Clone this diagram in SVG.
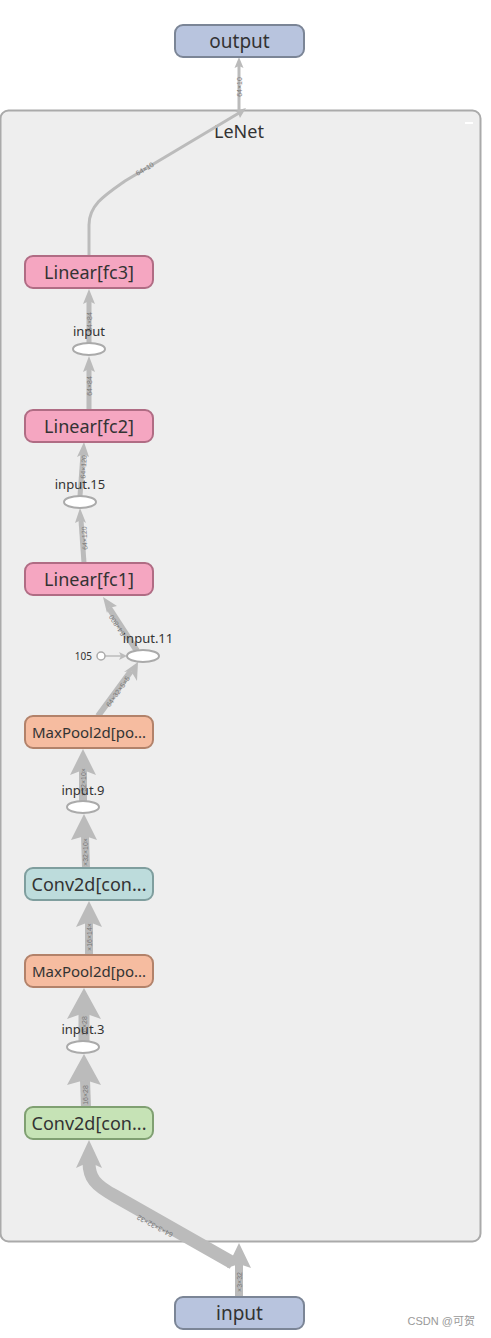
<svg xmlns="http://www.w3.org/2000/svg" width="491" height="1338" viewBox="0 0 491 1338">
<style>
.node rect{stroke-width:2}
.io rect{fill:#b8c4de;stroke:#7b8596}
.lin rect{fill:#f5a6c1;stroke:#b06c84}
.pool rect{fill:#f6bca0;stroke:#b2826a}
.conv2 rect{fill:#bddcdc;stroke:#7f9e9e}
.conv1 rect{fill:#c6e3b6;stroke:#80a072}
.lbl{font-family:"Noto Sans","Open Sans","Liberation Sans",sans-serif;fill:#333;text-anchor:middle}
.op ellipse{fill:#fff;stroke:#aaa;stroke-width:2}
.oplbl{font-family:"Noto Sans","Liberation Sans",sans-serif;font-size:13px;fill:#333;text-anchor:middle}
.e{fill:none;stroke:#bbb}
.ah{fill:#bbb}
.el{font-family:"Liberation Sans",sans-serif;font-size:7px;fill:#777;text-anchor:middle}
</style>
<rect width="491" height="1338" fill="#fff"/>
<g id="cluster-LeNet">
<rect x="0.5" y="110.5" width="480" height="1131" rx="8" fill="#eeeeee" stroke="#aaa" stroke-width="2"/>
<text class="lbl" x="239" y="138" font-size="18">LeNet</text>
<line x1="465" y1="123" x2="473" y2="123" stroke="#fff" stroke-width="2"/>
</g>
<g id="connectors">
<!-- input -> cluster -->
<path class="e" d="M239,1297 L239,1264" stroke-width="8"/>
<polygon class="ah" points="239,1243 251,1268 239,1264 227,1268"/>
<text class="el" transform="translate(242,1282) rotate(-90)">×3×32</text>
<!-- cluster -> conv1 -->
<path class="e" d="M233,1263 L115,1196 C95,1185 89,1178 89,1162" stroke-width="13"/>
<polygon class="ah" points="89,1140 102,1168 89,1162 76,1168"/>
<text class="el" transform="translate(156,1224) rotate(208)">64×3×32×32</text>
<!-- conv1 -> input.3 -->
<path class="e" d="M86,1107 L85,1080" stroke-width="10"/>
<polygon class="ah" points="84,1054 101,1085 85,1080 67,1085"/>
<text class="el" transform="translate(88,1095) rotate(-90)">16×28</text>
<!-- input.3 -> maxpool1 -->
<path class="e" d="M84,1041 L84,1013" stroke-width="11"/>
<polygon class="ah" points="84,988 101,1019 84,1013 67,1019"/>
<text class="el" transform="translate(87,1026) rotate(-90)">16×28</text>
<!-- maxpool1 -> conv2 -->
<path class="e" d="M89,955 L89,922" stroke-width="8"/>
<polygon class="ah" points="89,901 102,927 89,922 76,927"/>
<text class="el" transform="translate(92,937) rotate(-90)">×16×14×</text>
<!-- conv2 -> input.9 -->
<path class="e" d="M86,868 L85,836" stroke-width="8"/>
<polygon class="ah" points="84,814 97,840 85,836 71,840"/>
<text class="el" transform="translate(88,852) rotate(-90)">×32×10×</text>
<!-- input.9 -> maxpool -->
<path class="e" d="M83,801 L83,770" stroke-width="8"/>
<polygon class="ah" points="83,749 96,775 83,770 70,775"/>
<text class="el" transform="translate(86,782) rotate(-90)">×32×10×</text>
<!-- maxpool -> input.11 -->
<path class="e" d="M98,716 L131,671" stroke-width="6"/>
<polygon class="ah" points="138,662 137,681 131,671 124,672"/>
<text class="el" transform="translate(120,693) rotate(-55)">64×32×5×5</text>
<!-- input.11 -> fc1 -->
<path class="e" d="M137,651 L109,608" stroke-width="6"/>
<polygon class="ah" points="103,597 117,606 109,608 107,613"/>
<text class="el" transform="translate(119,624) rotate(237)">64×800</text>
<!-- 105 -> input.11 -->
<path class="e" d="M105,656 L121,656" stroke-width="1.5" stroke="#aaa"/>
<polygon class="ah" points="127,656 119,660 121,656 119,652" fill="#aaa"/>
<!-- fc1 -> input.15 -->
<path class="e" d="M84,563 L81,520" stroke-width="5"/>
<polygon class="ah" points="80,508 86,523 81,520 75,523"/>
<text class="el" transform="translate(87,538) rotate(-92)">64×120</text>
<!-- input.15 -> fc2 -->
<path class="e" d="M80,496 L83,454" stroke-width="5"/>
<polygon class="ah" points="84,442 89,457 83,454 77,457"/>
<text class="el" transform="translate(86,467) rotate(-86)">64×120</text>
<!-- fc2 -> input -->
<path class="e" d="M89,410 L89,369" stroke-width="5"/>
<polygon class="ah" points="89,356 95,372 89,369 83,372"/>
<text class="el" transform="translate(92,386) rotate(-90)">64×84</text>
<!-- input -> fc3 -->
<path class="e" d="M89,343 L89,301" stroke-width="5"/>
<polygon class="ah" points="89,289 95,304 89,301 83,304"/>
<text class="el" transform="translate(92,322) rotate(-90)">64×84</text>
<!-- fc3 -> cluster exit -->
<path class="e" d="M89,256 L89,225 C89,205 105,195 125,181 L239,113" stroke-width="3"/>
<polygon class="ah" points="246,108 240,118 238,113 235,111"/>
<text class="el" transform="translate(146,171) rotate(-31)">64×10</text>
<!-- cluster -> output -->
<path class="e" d="M239,110 L239,66" stroke-width="3"/>
<polygon class="ah" points="239,57 243.5,68 239,66 234.5,68"/>
<text class="el" transform="translate(241.5,87) rotate(-90)">64×10</text>
</g>
<g id="node-output" class="node io">
<rect x="175" y="25" width="129" height="32" rx="8"/>
<text class="lbl" x="239.5" y="48" font-size="19">output</text>
</g>
<g id="node-fc3" class="node lin">
<rect x="25" y="256" width="128" height="32" rx="8"/>
<text class="lbl" x="89" y="279" font-size="18">Linear[fc3]</text>
</g>
<g id="node-input" class="op">
<ellipse cx="89" cy="349" rx="16" ry="6"/>
<text class="oplbl" x="89" y="336">input</text>
</g>
<g id="node-fc2" class="node lin">
<rect x="25" y="410" width="128" height="32" rx="8"/>
<text class="lbl" x="89" y="433" font-size="18">Linear[fc2]</text>
</g>
<g id="node-input15" class="op">
<ellipse cx="80" cy="502" rx="16" ry="6"/>
<text class="oplbl" x="80" y="489">input.15</text>
</g>
<g id="node-fc1" class="node lin">
<rect x="25" y="563" width="128" height="32" rx="8"/>
<text class="lbl" x="89" y="586" font-size="18">Linear[fc1]</text>
</g>
<g id="node-input11" class="op">
<ellipse cx="143" cy="656" rx="16" ry="6"/>
<text class="oplbl" x="148" y="643">input.11</text>
</g>
<g id="node-105">
<circle cx="101" cy="656" r="4" fill="#fff" stroke="#aaa" stroke-width="1.5"/>
<text x="92" y="660" font-family="Noto Sans,Liberation Sans,sans-serif" font-size="10" fill="#333" text-anchor="end">105</text>
</g>
<g id="node-pool2" class="node pool">
<rect x="25" y="716" width="128" height="32" rx="8"/>
<text class="lbl" x="89" y="738" font-size="15">MaxPool2d[po...</text>
</g>
<g id="node-input9" class="op">
<ellipse cx="83" cy="807" rx="16" ry="6"/>
<text class="oplbl" x="83" y="795">input.9</text>
</g>
<g id="node-conv2" class="node conv2">
<rect x="25" y="868" width="128" height="32" rx="8"/>
<text class="lbl" x="89" y="891" font-size="18">Conv2d[con...</text>
</g>
<g id="node-pool1" class="node pool">
<rect x="25" y="955" width="128" height="32" rx="8"/>
<text class="lbl" x="89" y="977" font-size="15">MaxPool2d[po...</text>
</g>
<g id="node-input3" class="op">
<ellipse cx="83" cy="1047" rx="16" ry="6"/>
<text class="oplbl" x="83" y="1034">input.3</text>
</g>
<g id="node-conv1" class="node conv1">
<rect x="25" y="1107" width="128" height="32" rx="8"/>
<text class="lbl" x="89" y="1130" font-size="18">Conv2d[con...</text>
</g>
<g id="node-input-io" class="node io">
<rect x="175" y="1297" width="129" height="32" rx="8"/>
<text class="lbl" x="239.5" y="1320" font-size="19">input</text>
</g>
<text x="475" y="1325" font-family="Liberation Sans,Noto Sans CJK SC,sans-serif" font-size="11" fill="#999" text-anchor="end">CSDN @可贺</text>
</svg>
